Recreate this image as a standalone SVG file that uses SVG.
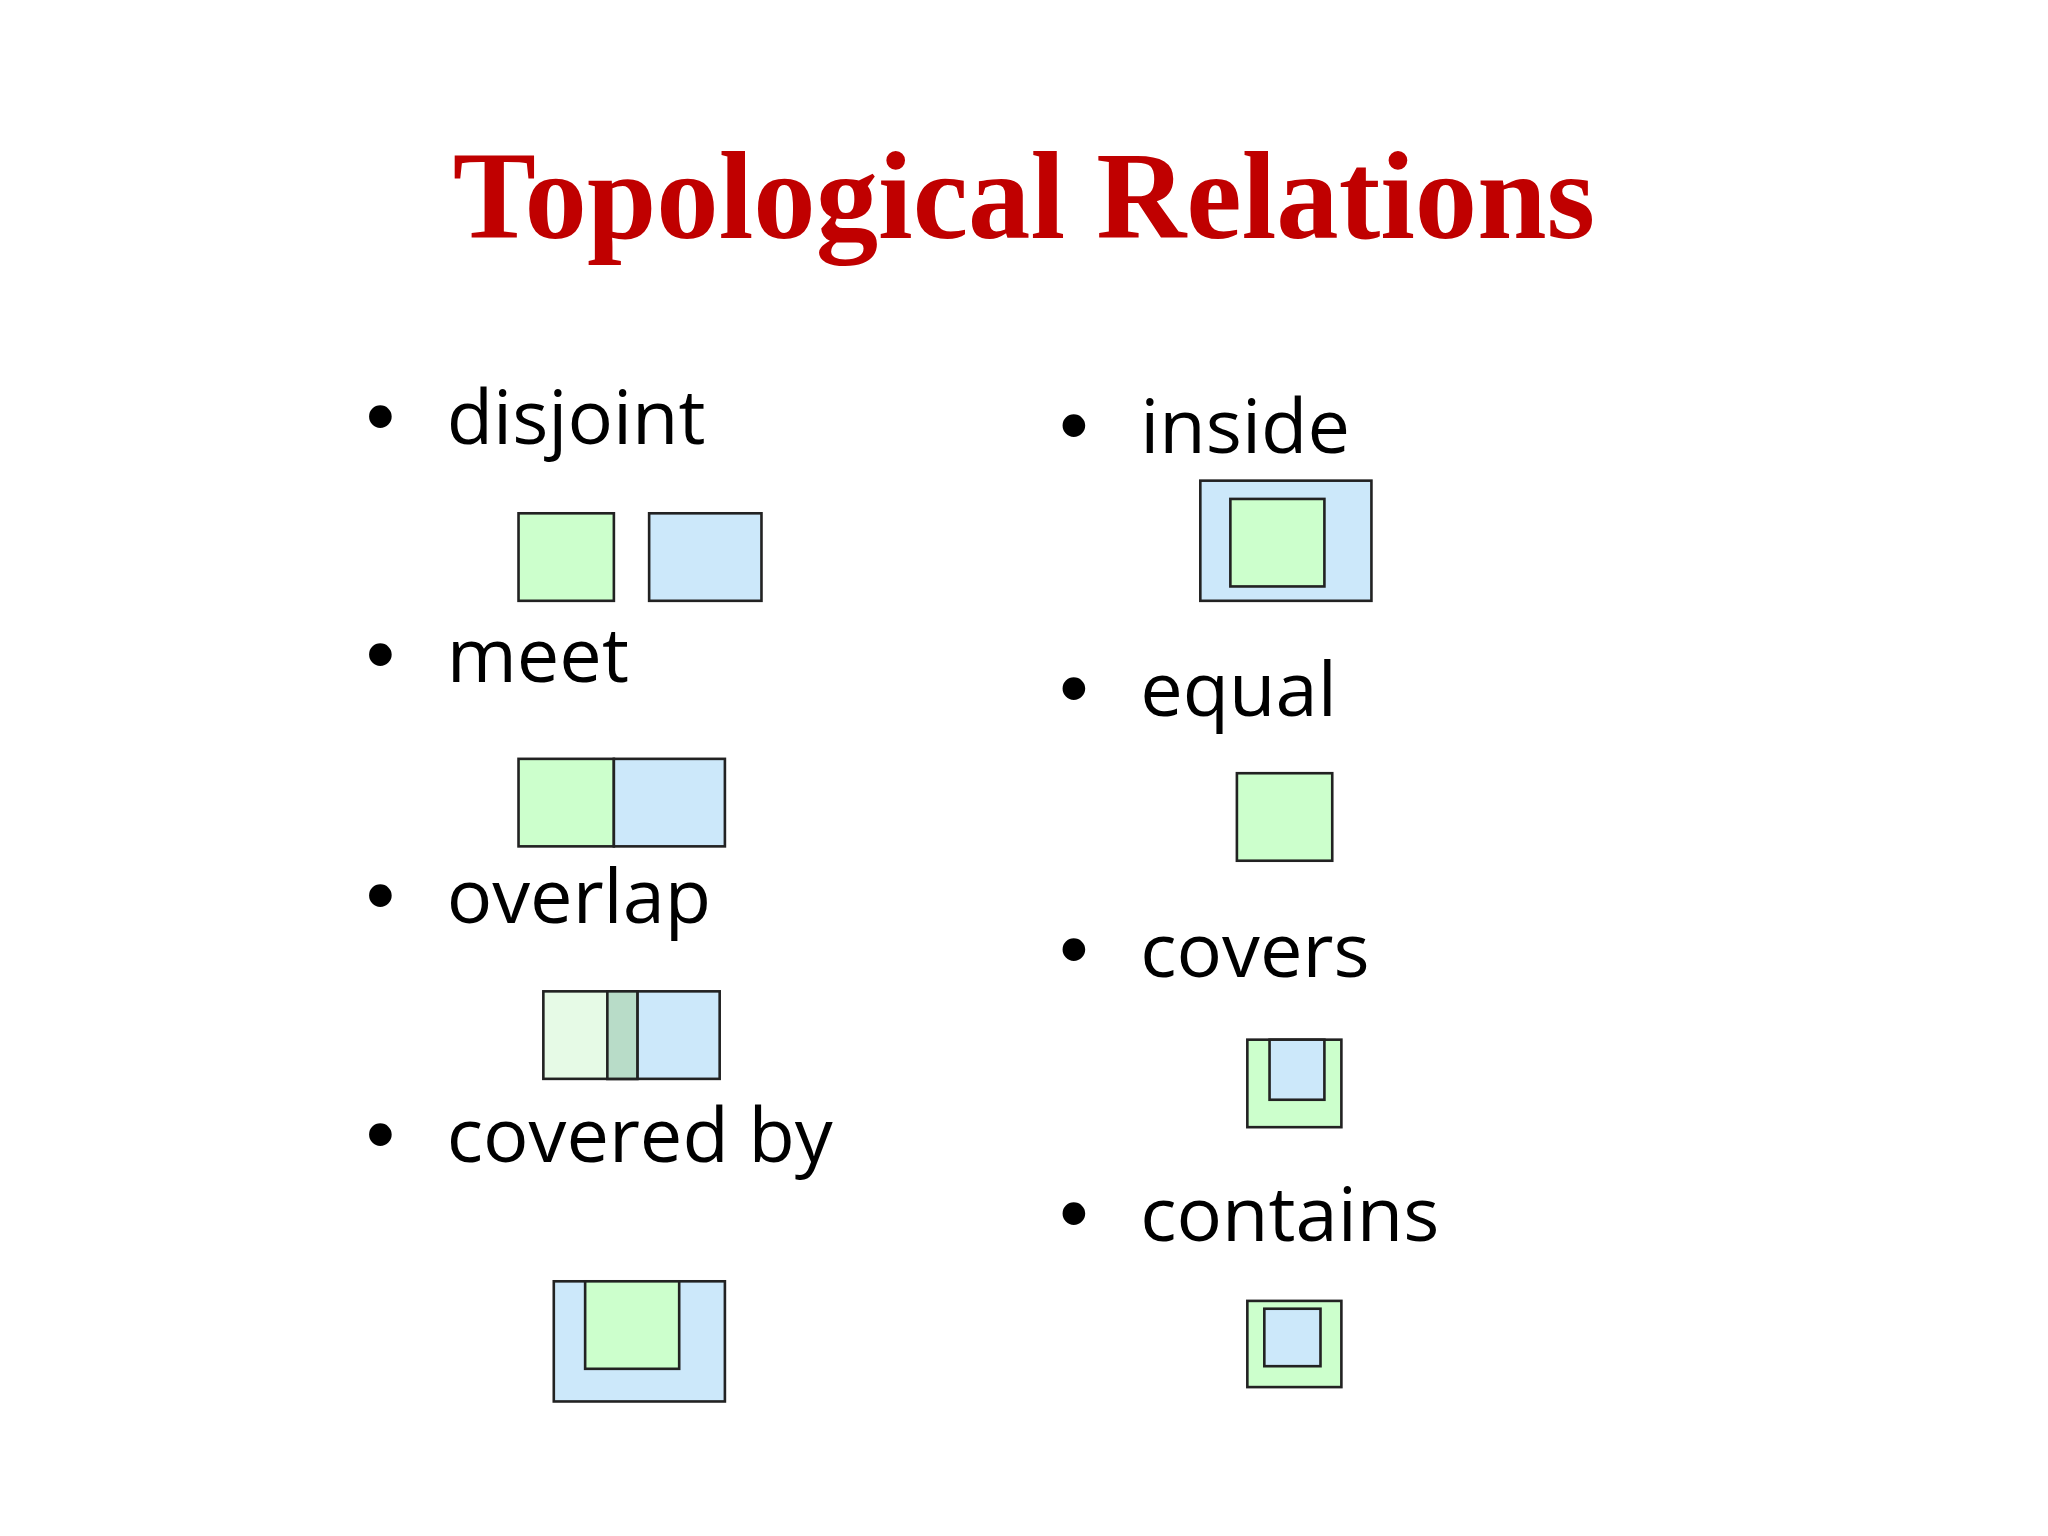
<svg xmlns="http://www.w3.org/2000/svg" width="2048" height="1536" viewBox="0 0 2048 1536">
<style>
.t{font-family:"Liberation Serif",serif;font-weight:bold;font-size:95.5px;fill:#C00000}
.b{font-family:"Open Sans","Liberation Sans",sans-serif;font-size:58px;fill:#000}
.d{font-family:"Liberation Sans",sans-serif;font-size:64px;fill:#000}
.g{fill:#CCFFCC;stroke:#222;stroke-width:2}
.u{fill:#CCE8FA;stroke:#222;stroke-width:2}
</style>
<rect width="2048" height="1536" fill="#fff"/>
<g transform="scale(1.30612)">
<text class="t" x="784" y="182" text-anchor="middle">Topological Relations</text>
<g id="disjoint"><text class="d" x="280" y="340">•</text><text class="b" x="342" y="340">disjoint</text>
<rect class="g" x="397" y="393" width="73" height="67"/><rect class="u" x="497" y="393" width="86" height="67"/></g>
<g id="meet"><text class="d" x="280" y="522">•</text><text class="b" x="342" y="522">meet</text>
<rect class="g" x="397" y="581" width="73" height="67"/><rect class="u" x="470" y="581" width="85" height="67"/></g>
<g id="overlap"><text class="d" x="280" y="707">•</text><text class="b" x="342" y="707">overlap</text>
<rect class="u" x="465" y="759" width="86" height="67"/><rect x="416" y="759" width="72" height="67" fill="#E6FAE6" stroke="#222" stroke-width="2"/>
<rect x="465" y="759" width="23" height="67" fill="#B8DCC8" stroke="#222" stroke-width="2"/></g>
<g id="coveredby"><text class="d" x="280" y="890">•</text><text class="b" x="342" y="890">covered by</text>
<rect class="u" x="424" y="981" width="131" height="92"/><rect class="g" x="448" y="981" width="72" height="67"/></g>
<g id="inside"><text class="d" x="811" y="347">•</text><text class="b" x="873" y="347">inside</text>
<rect class="u" x="919" y="368" width="131" height="92"/><rect class="g" x="942" y="382" width="72" height="67"/></g>
<g id="equal"><text class="d" x="811" y="548">•</text><text class="b" x="873" y="548">equal</text>
<rect class="g" x="947" y="592" width="73" height="67"/></g>
<g id="covers"><text class="d" x="811" y="748">•</text><text class="b" x="873" y="748">covers</text>
<rect class="g" x="955" y="796" width="72" height="67"/><rect class="u" x="972" y="796" width="42" height="46"/></g>
<g id="contains"><text class="d" x="811" y="950">•</text><text class="b" x="873" y="950">contains</text>
<rect class="g" x="955" y="996" width="72" height="66"/><rect class="u" x="968" y="1002" width="43" height="44"/></g>
</g>
<g id="connectors"/>
</svg>
